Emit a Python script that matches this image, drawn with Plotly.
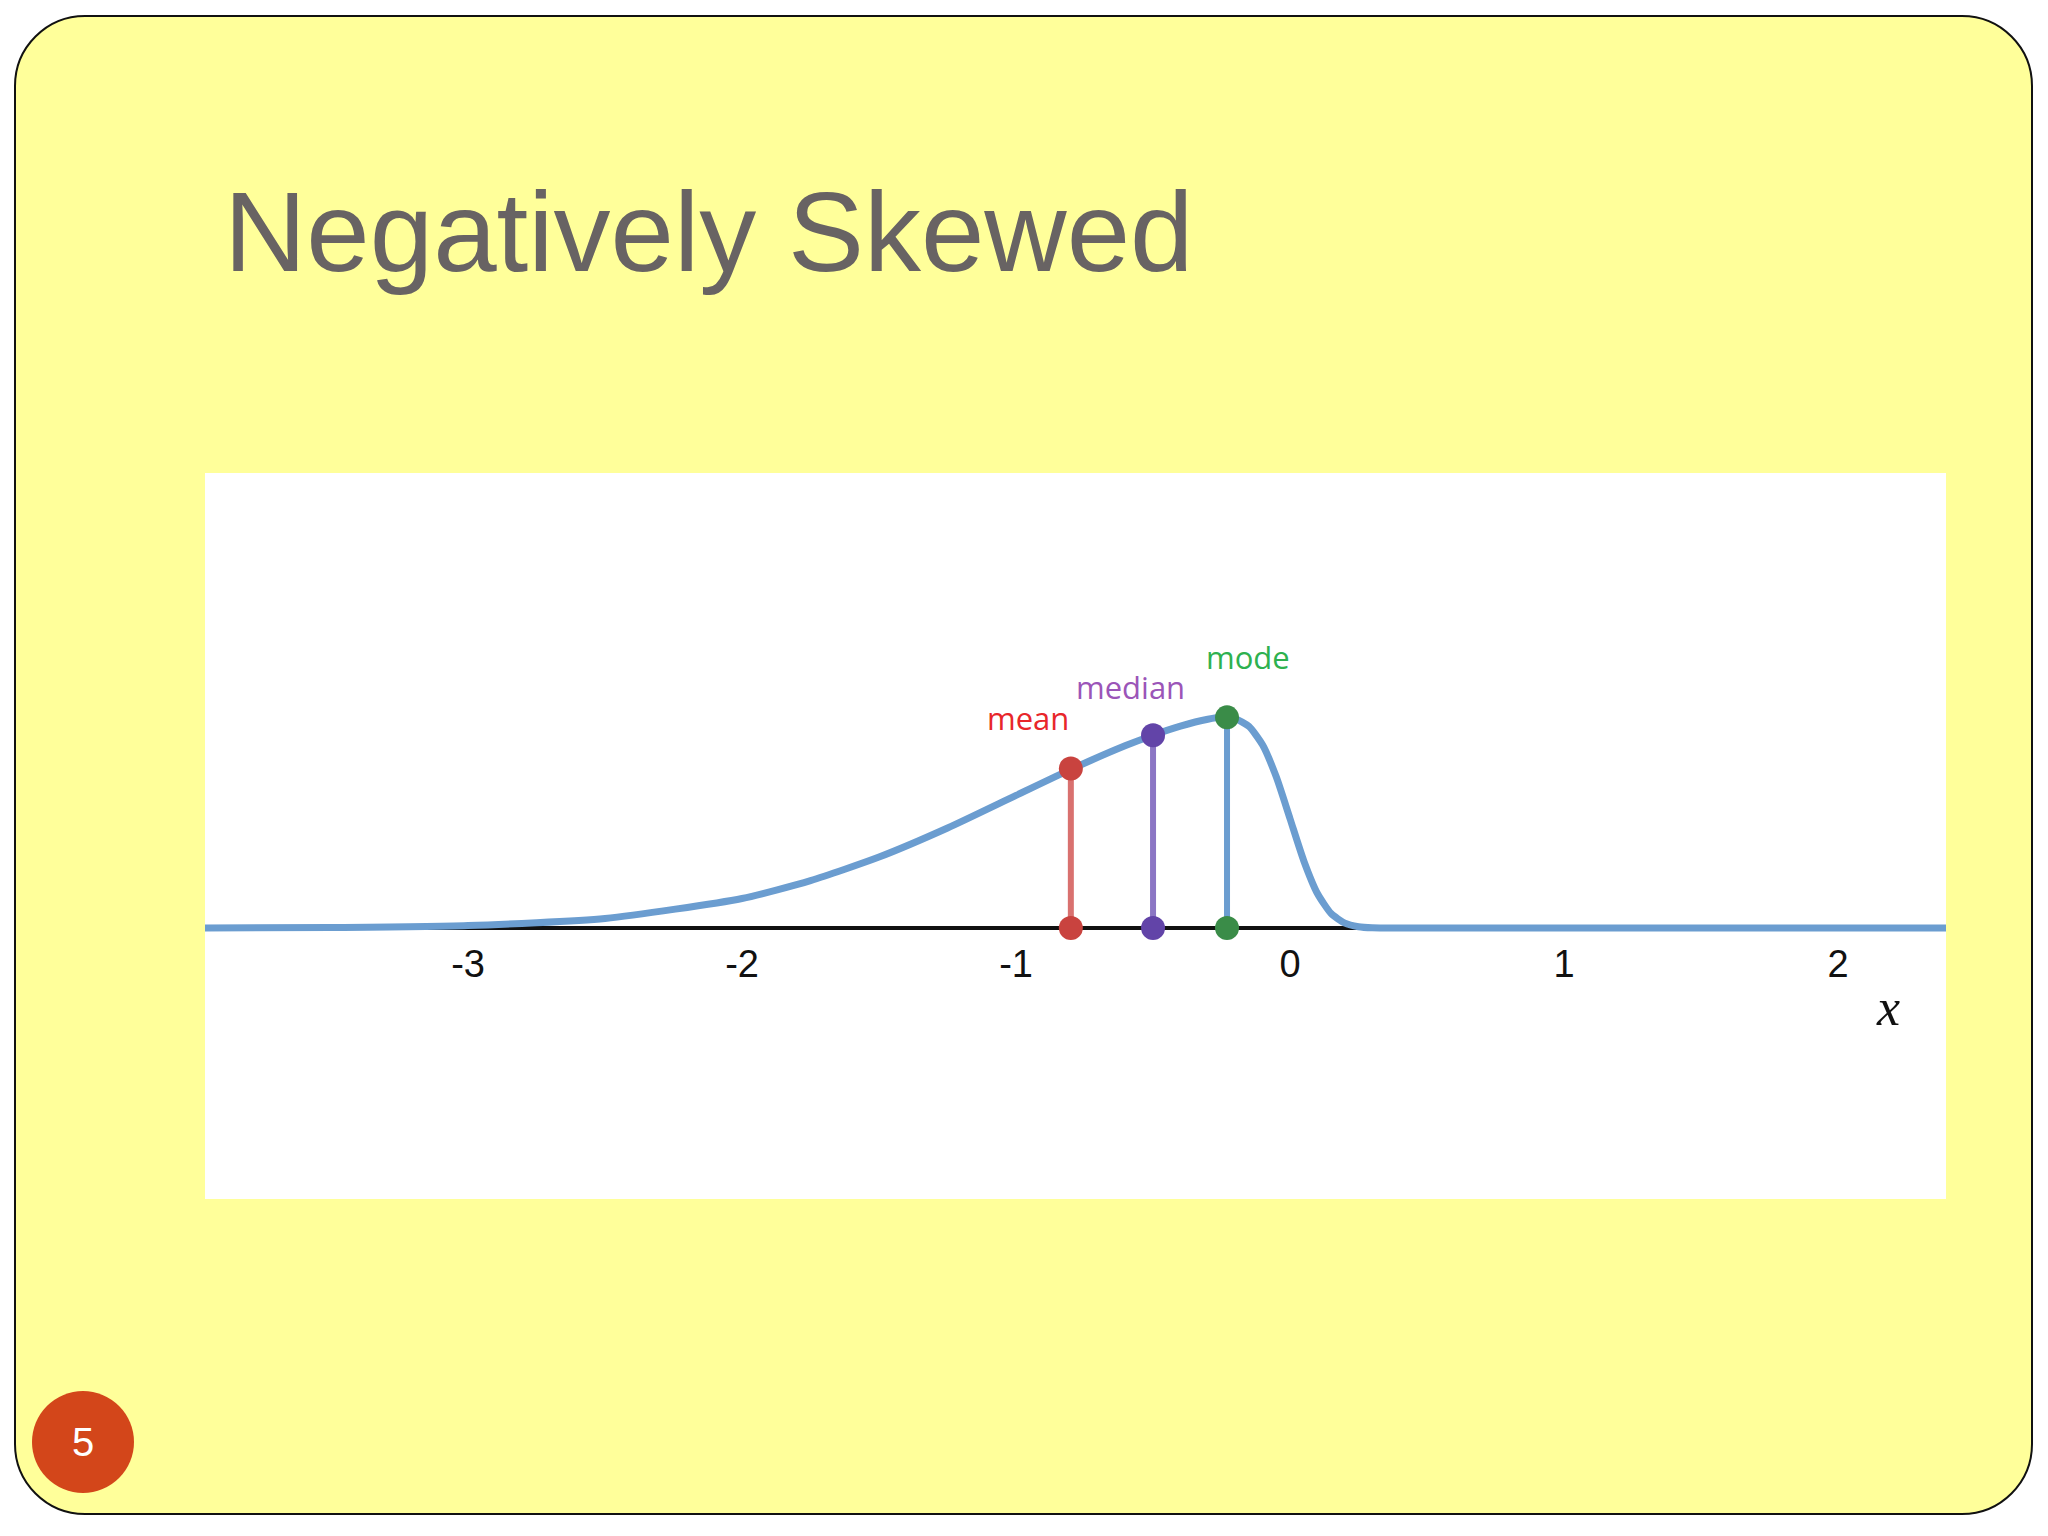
import plotly.graph_objects as go

W, H = 2048, 1536

# density curve
curve_x = [-3.96, -3.5, -3.0, -2.5, -2.0, -1.75, -1.5, -1.25, -1.0, -0.8, -0.6, -0.5,
           -0.4, -0.3, -0.25, -0.2, -0.15, -0.1, -0.05, 0.0, 0.05, 0.1, 0.15, 0.2,
           0.25, 0.3, 0.4, 1.0, 2.394]
curve_y = [0.0003, 0.0017, 0.009, 0.035, 0.108, 0.173, 0.259, 0.365, 0.484, 0.579, 0.666, 0.704,
           0.737, 0.762, 0.769, 0.764, 0.736, 0.668, 0.551, 0.399, 0.246, 0.126, 0.053, 0.018,
           0.005, 0.001, 0.0, 0.0, 0.0]

# mean / median / mode
stat_names = ["mean", "median", "mode"]
stat_x = [-0.80, -0.50, -0.23]
stat_y = [0.582, 0.704, 0.769]
label_x = [-0.956, -0.584, -0.153]
label_y = [0.766, 0.880, 0.989]

tick_vals = [-3, -2, -1, 0, 1, 2]
tick_text = ["-3", "-2", "-1", "0", "1", "2"]

marker_colors = ["#c9433f", "#6244a8", "#3a8c48"]
stem_colors = ["#d9716f", "#8b76c4", "#6b9dd0"]
label_colors = ["#e8262a", "#9b55b8", "#2eb14f"]
curve_color = "#6b9dd0"


def px(x):
    return x / W


def py(y):
    return 1 - y / H


fig = go.Figure()

fig.add_trace(go.Scatter(x=curve_x, y=curve_y, mode="lines",
                         line=dict(color=curve_color, width=7, shape="spline", smoothing=0.6),
                         hoverinfo="skip"))

for sx, sy, sc in zip(stat_x, stat_y, stem_colors):
    fig.add_trace(go.Scatter(x=[sx, sx], y=[0, sy], mode="lines",
                             line=dict(color=sc, width=6), hoverinfo="skip"))

for sx, sy, mc in zip(stat_x, stat_y, marker_colors):
    fig.add_trace(go.Scatter(x=[sx, sx], y=[0, sy], mode="markers",
                             marker=dict(color=mc, size=24), hoverinfo="skip"))

for name, lx, ly, lc in zip(stat_names, label_x, label_y, label_colors):
    fig.add_annotation(x=lx, y=ly, xref="x", yref="y", text=name, showarrow=False,
                       font=dict(family="Open Sans", size=31, color=lc))

fig.add_annotation(x=2.182, y=-0.29, xref="x", yref="y", text="<i>x</i>", showarrow=False,
                   font=dict(family="Liberation Serif", size=52, color="#111111"))

# slide background: rounded rectangle
L, R, T, B, r = 15, 2032, 16, 1514, 70
k = 0.5523 * r
path = (
    f"M {px(L + r)},{py(T)} L {px(R - r)},{py(T)} "
    f"C {px(R - r + k)},{py(T)} {px(R)},{py(T + r - k)} {px(R)},{py(T + r)} "
    f"L {px(R)},{py(B - r)} "
    f"C {px(R)},{py(B - r + k)} {px(R - r + k)},{py(B)} {px(R - r)},{py(B)} "
    f"L {px(L + r)},{py(B)} "
    f"C {px(L + r - k)},{py(B)} {px(L)},{py(B - r + k)} {px(L)},{py(B - r)} "
    f"L {px(L)},{py(T + r)} "
    f"C {px(L)},{py(T + r - k)} {px(L + r - k)},{py(T)} {px(L + r)},{py(T)} Z"
)
fig.add_shape(type="path", path=path, xref="paper", yref="paper", layer="below",
              fillcolor="#ffff9a", line=dict(color="#111111", width=2))

# white chart panel
fig.add_shape(type="rect", xref="paper", yref="paper", layer="below",
              x0=px(205), x1=px(1946), y0=py(1199), y1=py(473),
              fillcolor="white", line=dict(width=0))

# slide number badge
cx, cy, cr = 83, 1442, 51
fig.add_shape(type="circle", xref="paper", yref="paper", layer="below",
              x0=px(cx - cr), x1=px(cx + cr), y0=py(cy + cr), y1=py(cy - cr),
              fillcolor="#d3461a", line=dict(width=0))
fig.add_annotation(x=px(cx), y=py(cy), xref="paper", yref="paper", xanchor="center",
                   yanchor="middle", text="5", showarrow=False,
                   font=dict(family="Liberation Sans", size=40, color="white"))

fig.add_annotation(x=px(222), y=py(231), xref="paper", yref="paper", xanchor="left",
                   yanchor="middle", text="Negatively Skewed", showarrow=False,
                   font=dict(family="Liberation Sans", size=114, color="#686363"))

fig.update_layout(
    width=W, height=H,
    margin=dict(l=0, r=0, t=0, b=0),
    paper_bgcolor="white",
    plot_bgcolor="white",
    showlegend=False,
    xaxis=dict(domain=[px(205), px(1946)], range=[-3.96, 2.394], anchor="free",
               position=py(928), showgrid=False, zeroline=False,
               showline=True, linecolor="#111111", linewidth=4, layer="below traces",
               tickmode="array", tickvals=tick_vals, ticktext=tick_text, ticks="",
               tickfont=dict(family="Liberation Sans", size=38, color="#111111"),
               ticklabelstandoff=1),
    yaxis=dict(domain=[py(1199), py(473)], range=[-0.989, 1.661], visible=False,
               showgrid=False, zeroline=False),
)

fig.write_html("out.html", config={"displayModeBar": False},
               post_script="document.body.style.margin='0px';")
